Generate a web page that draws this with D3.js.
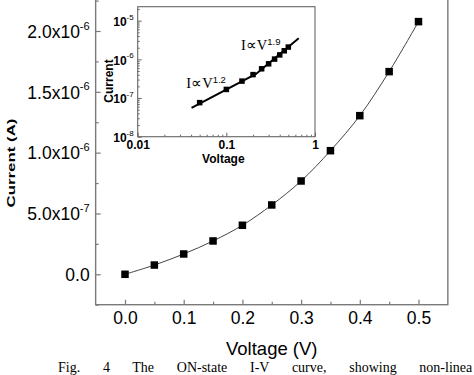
<!DOCTYPE html>
<html>
<head>
<meta charset="utf-8">
<script src="https://cdn.jsdelivr.net/npm/d3@7"></script>
<style>
  html, body { margin: 0; padding: 0; background: #fff; }
  svg { display: block; }
  text { fill: #000; }
</style>
</head>
<body>
<svg id="chart" width="474" height="375"></svg>
<script>
// ---------- data ----------
const voltage = [0, 0.05, 0.10, 0.15, 0.20, 0.25, 0.30, 0.35, 0.40, 0.45, 0.50];
const current = [0, 0.076e-6, 0.167e-6, 0.274e-6, 0.403e-6, 0.57e-6, 0.767e-6, 1.016e-6, 1.304e-6, 1.666e-6, 2.077e-6];

const xTickValues = [0, 0.1, 0.2, 0.3, 0.4, 0.5];
const xTickLabels = ["0.0", "0.1", "0.2", "0.3", "0.4", "0.5"];
const xMinorTicks = [0.05, 0.15, 0.25, 0.35, 0.45];

const yTickValues = [0, 5e-7, 1e-6, 1.5e-6, 2e-6];
const yTickMantissa = ["0.0", "5.0x10", "1.0x10", "1.5x10", "2.0x10"];
const yTickExponent = ["", "-7", "-6", "-6", "-6"];
const yMinorTicks = [-2.5e-7, 2.5e-7, 7.5e-7, 1.25e-6, 1.75e-6, 2.25e-6];

// inset (log-log)
const insetXTicks = [0.01, 0.1, 1];
const insetXTickLabels = ["0.01", "0.1", "1"];
const insetYTicks = [1e-8, 1e-7, 1e-6, 1e-5];
const insetYTickExponent = ["-8", "-7", "-6", "-5"];
const fitLowV = [0.0405, 0.216];
const fitLowI = [5.6e-8, 4.2e-7];
const fitHighV = [0.216, 0.655];
const fitHighI = [4.2e-7, 3.5e-6];
const fitLabelBase = ["I\u221DV", "I\u221DV"];
const fitLabelExp = ["1.2", "1.9"];
const fitLabelV = [0.0354, 0.146];
const fitLabelI = [1.82e-7, 1.75e-6];

const xTitle = "Voltage (V)";
const yTitle = "Current (A)";
const insetXTitle = "Voltage";
const insetYTitle = "Current";
const caption = "Fig. 4 The ON-state I-V curve, showing non-linea";

// ---------- layout ----------
const sans = "Arial, 'Liberation Sans', Helvetica, sans-serif";
const serif = "'Liberation Serif', 'Times New Roman', Times, serif";
const svg = d3.select("#chart");
const axisColor = "#7a7a7a";

const x = d3.scaleLinear().domain([-0.05, 0.55]).range([95.65, 447.85]);
const y = d3.scaleLinear().domain([-0.25e-6, 2.3e-6]).range([304.7, -5.5]);

// frame
svg.append("rect")
  .attr("x", x.range()[0]).attr("y", y.range()[1])
  .attr("width", x.range()[1] - x.range()[0])
  .attr("height", y.range()[0] - y.range()[1])
  .attr("fill", "none").attr("stroke", axisColor).attr("stroke-width", 1.4);

// x axis
const gx = svg.append("g").attr("transform", `translate(0,${y.range()[0]})`)
  .call(d3.axisBottom(x).tickValues(xTickValues)
    .tickFormat((d, i) => xTickLabels[i])
    .tickSizeInner(-5).tickSizeOuter(0).tickPadding(8));
gx.select(".domain").remove();
gx.selectAll(".tick line").attr("stroke", axisColor).attr("stroke-width", 1.2);
gx.selectAll(".tick text").style("font-size", "17.5px").style("font-family", sans)
  .attr("dy", "0.71em").attr("y", 7);

const gxm = svg.append("g").attr("transform", `translate(0,${y.range()[0]})`)
  .call(d3.axisBottom(x).tickValues(xMinorTicks).tickFormat("").tickSizeInner(-3).tickSizeOuter(0));
gxm.select(".domain").remove();
gxm.selectAll(".tick line").attr("stroke", axisColor).attr("stroke-width", 1.2);

// y axis
const gy = svg.append("g").attr("transform", `translate(${x.range()[0]},0)`)
  .call(d3.axisLeft(y).tickValues(yTickValues)
    .tickSizeInner(-5).tickSizeOuter(0).tickPadding(6));
gy.select(".domain").remove();
gy.selectAll(".tick line").attr("stroke", axisColor).attr("stroke-width", 1.2);
gy.selectAll(".tick text").each(function (d, i) {
  const t = d3.select(this).text("")
    .style("font-size", "17.5px").style("font-family", sans)
    .attr("dy", "0.36em");
  t.append("tspan").text(yTickMantissa[i]);
  if (yTickExponent[i]) {
    t.append("tspan").style("font-size", "11px").attr("dy", "-0.75em").text(yTickExponent[i]);
  }
});

const gym = svg.append("g").attr("transform", `translate(${x.range()[0]},0)`)
  .call(d3.axisLeft(y).tickValues(yMinorTicks).tickFormat("").tickSizeInner(-3).tickSizeOuter(0));
gym.select(".domain").remove();
gym.selectAll(".tick line").attr("stroke", axisColor).attr("stroke-width", 1.2);

// titles
svg.append("text").attr("x", (x.range()[0] + x.range()[1]) / 2).attr("y", 355)
  .attr("text-anchor", "middle").style("font-family", sans).style("font-size", "18.5px").text(xTitle);

svg.append("text").attr("transform", "translate(15,163) rotate(-90)")
  .attr("text-anchor", "middle").style("font-family", sans).style("font-size", "11.5px").style("font-weight", "bold")
  .attr("textLength", 89).attr("lengthAdjust", "spacingAndGlyphs")
  .text(yTitle);

// main series
const pts = voltage.map((v, i) => [v, current[i]]);
svg.append("path").datum(pts)
  .attr("fill", "none").attr("stroke", "#444").attr("stroke-width", 1)
  .attr("d", d3.line().x(d => x(d[0])).y(d => y(d[1])).curve(d3.curveCatmullRom));

const ms = 7.5;
svg.append("g").selectAll("rect").data(pts).join("rect")
  .attr("x", d => x(d[0]) - ms / 2).attr("y", d => y(d[1]) - ms / 2)
  .attr("width", ms).attr("height", ms).attr("fill", "#000");

// ---------- inset ----------
const xl = d3.scaleLog().domain([0.01, 1]).range([137.7, 315]);
const yl = d3.scaleLog().domain([1e-8, 2.3e-5]).range([136.7, 6.7]);
const insetColor = "#666";

svg.append("rect")
  .attr("x", xl.range()[0]).attr("y", yl.range()[1])
  .attr("width", xl.range()[1] - xl.range()[0])
  .attr("height", yl.range()[0] - yl.range()[1])
  .attr("fill", "#fff").attr("stroke", insetColor).attr("stroke-width", 1.1);

// minor ticks for log axes (2..9 within each decade)
const xlMinor = [];
[0.01, 0.1].forEach(dec => { for (let k = 2; k <= 9; k++) xlMinor.push(dec * k); });
const ylMinor = [];
[1e-8, 1e-7, 1e-6, 1e-5].forEach(dec => { for (let k = 2; k <= 9; k++) if (dec * k < 2.3e-5) ylMinor.push(dec * k); });

const gxl = svg.append("g").attr("transform", `translate(0,${yl.range()[0]})`)
  .call(d3.axisBottom(xl).tickValues(insetXTicks).tickFormat((d, i) => insetXTickLabels[i])
    .tickSizeInner(-4).tickSizeOuter(0).tickPadding(5));
gxl.select(".domain").remove();
gxl.selectAll(".tick line").attr("stroke", insetColor);
gxl.selectAll(".tick text").style("font-size", "12px").style("font-weight", "bold")
  .style("font-family", sans).attr("y", 4);

const gxlm = svg.append("g").attr("transform", `translate(0,${yl.range()[0]})`)
  .call(d3.axisBottom(xl).tickValues(xlMinor).tickFormat("").tickSizeInner(-2).tickSizeOuter(0));
gxlm.select(".domain").remove();
gxlm.selectAll(".tick line").attr("stroke", insetColor);

const gyl = svg.append("g").attr("transform", `translate(${xl.range()[0]},0)`)
  .call(d3.axisLeft(yl).tickValues(insetYTicks).tickSizeInner(-4).tickSizeOuter(0).tickPadding(4));
gyl.select(".domain").remove();
gyl.selectAll(".tick line").attr("stroke", insetColor);
gyl.selectAll(".tick text").each(function (d, i) {
  const t = d3.select(this).text("")
    .style("font-size", "12px").style("font-weight", "bold")
    .style("font-family", sans).attr("dy", "0.4em");
  t.append("tspan").text("10");
  t.append("tspan").style("font-size", "8px").style("font-weight", "normal").attr("dy", "-0.8em").text(insetYTickExponent[i]);
});

const gylm = svg.append("g").attr("transform", `translate(${xl.range()[0]},0)`)
  .call(d3.axisLeft(yl).tickValues(ylMinor).tickFormat("").tickSizeInner(-2).tickSizeOuter(0));
gylm.select(".domain").remove();
gylm.selectAll(".tick line").attr("stroke", insetColor);

svg.append("text").attr("x", (xl.range()[0] + xl.range()[1]) / 2 - 3).attr("y", 163)
  .attr("text-anchor", "middle").style("font-family", sans).style("font-size", "12px").style("font-weight", "bold").text(insetXTitle);
svg.append("text").attr("transform", "translate(113,81) rotate(-90)")
  .attr("text-anchor", "middle").style("font-family", sans).style("font-size", "12px").style("font-weight", "bold").text(insetYTitle);

// fit lines
const fitLine = d3.line().x(d => xl(d[0])).y(d => yl(d[1]));
const fitPts = fitLowV.map((v, i) => [v, fitLowI[i]]).concat(fitHighV.slice(1).map((v, i) => [v, fitHighI[i + 1]]));
svg.append("path").datum(fitPts)
  .attr("fill", "none").attr("stroke", "#000").attr("stroke-width", 2).attr("d", fitLine);

const inPts = pts.filter(d => d[0] > 0);
const ims = 5.5;
svg.append("g").selectAll("rect").data(inPts).join("rect")
  .attr("x", d => xl(d[0]) - ims / 2).attr("y", d => yl(d[1]) - ims / 2)
  .attr("width", ims).attr("height", ims).attr("fill", "#000");

// fit labels
fitLabelBase.forEach((base, i) => {
  const t = svg.append("text").attr("x", xl(fitLabelV[i])).attr("y", yl(fitLabelI[i]))
    .style("font-family", serif).style("font-size", "14.5px");
  t.append("tspan").text(base);
  t.append("tspan").style("font-size", "9.5px").attr("dy", -5).style("font-family", sans).text(fitLabelExp[i]);
});

// caption
svg.append("text").attr("x", 58).attr("y", 372)
  .style("font-family", serif).style("font-size", "14px")
  .style("word-spacing", "19.2px")
  .text(caption);
</script>
</body>
</html>
